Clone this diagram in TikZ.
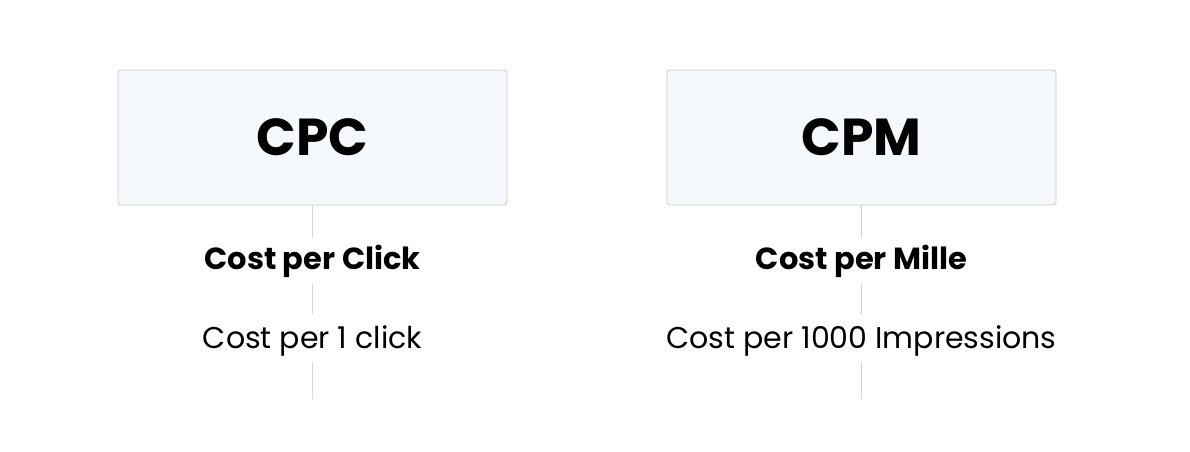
\documentclass[tikz,border=0pt]{standalone}
\usepackage{fontspec}
\setmainfont{Poppins}
\usetikzlibrary{positioning}
\definecolor{boxfill}{HTML}{F5F9FD}
\definecolor{boxline}{HTML}{C6CBD1}
\definecolor{stem}{HTML}{D6D6D6}
\tikzset{
  termbox/.style={draw=boxline,fill=boxfill,rounded corners=3pt,line width=0.8pt,
    minimum width=389pt,minimum height=135pt,inner sep=0pt,
    font=\fontsize{52}{56}\selectfont\bfseries},
  meaning/.style={minimum height=45pt,inner sep=0pt,font=\fontsize{30.5}{34}\selectfont\bfseries},
  detail/.style={minimum height=48pt,inner sep=0pt,text height=21pt,text depth=0pt,
    font=\fontsize{30}{34}\selectfont},
  stemline/.style={draw=stem,line width=1.4pt}
}
\begin{document}
\begin{tikzpicture}[x=1pt,y=-1pt]
                                    \useasboundingbox (0,0) rectangle (1190,451);
% left column
                                    \node[termbox] (cpc) at (312.5,137.5) {CPC};
                                    \node[meaning,below=33pt of cpc] (cpcname) {Cost per Click};
                                    \node[detail,below=30pt of cpcname] (cpcdetail) {Cost per 1 click};
                                    \coordinate[below=37pt of cpcdetail] (cpcend);
                                    \draw[stemline] (cpc) -- (cpcname) (cpcname) -- (cpcdetail) (cpcdetail) -- (cpcend);

% right column
                                    \node[termbox] (cpm) at (861.5,137.5) {CPM};
                                    \node[meaning,below=33pt of cpm] (cpmname) {Cost per Mille};
                                    \node[detail,below=30pt of cpmname] (cpmdetail) {Cost per 1000 Impressions};
                                    \coordinate[below=37pt of cpmdetail] (cpmend);
                                    \draw[stemline] (cpm) -- (cpmname) (cpmname) -- (cpmdetail) (cpmdetail) -- (cpmend);
                                \end{tikzpicture}
\end{document}
